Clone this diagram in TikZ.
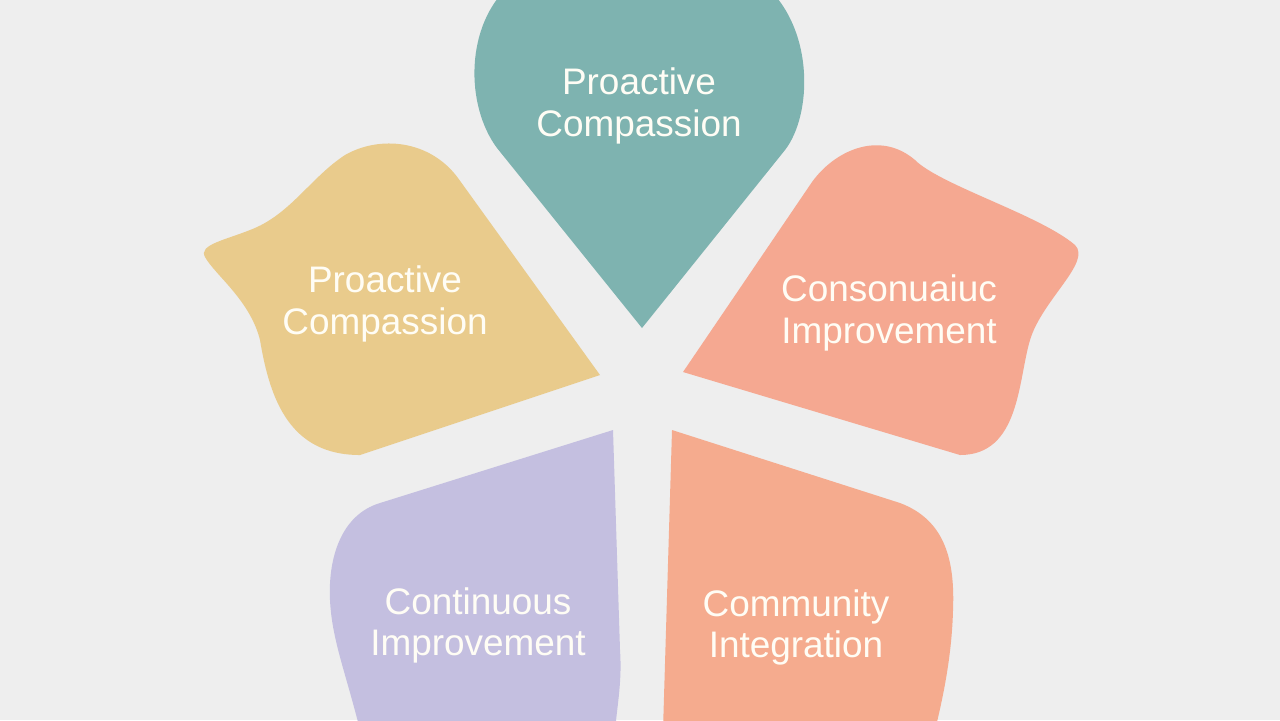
\documentclass[tikz,border=0pt]{standalone}
\usepackage{fontspec}
\setmainfont{Liberation Sans}
\definecolor{bgc}{RGB}{238,238,238}
\definecolor{tealc}{RGB}{126,179,176}
\definecolor{yellowc}{RGB}{233,203,140}
\definecolor{salmonc}{RGB}{245,168,145}
\definecolor{lavc}{RGB}{196,191,224}
\definecolor{coralc}{RGB}{245,171,142}
\definecolor{txtc}{RGB}{255,253,245}
\tikzset{
  lbl/.style={text=txtc, align=center, font=\fontsize{10.5}{11.7}\selectfont, inner sep=0pt}
}
\begin{document}
\begin{tikzpicture}[x=0.01cm, y=-0.01cm]
\useasboundingbox (0,0) rectangle (1280,720);
\fill[bgc] (0,0) rectangle (1280,720);
\begin{scope}
\clip (0,0) rectangle (1280,720);
% teal top petal
\fill[tealc] (642,328) -- (497,148) .. controls (465,105) and (465,25) .. (510,-15)
  -- (765,-15) .. controls (815,30) and (812,115) .. (785,150) -- cycle;
% salmon right petal
\fill[salmonc] (683,372) -- (812,182) .. controls (835,150) and (880,130) .. (915,160)
  .. controls (940,185) and (1040,215) .. (1075,245)
  .. controls (1092,262) and (1042,300) .. (1030,340)
  .. controls (1018,380) and (1020,455) .. (960,455) -- cycle;
% yellow left petal
\fill[yellowc] (600,375) -- (458,178) .. controls (430,140) and (380,135) .. (345,155)
  .. controls (310,178) and (290,215) .. (250,230)
  .. controls (225,240) and (198,245) .. (205,257)
  .. controls (215,275) and (250,300) .. (260,340)
  .. controls (270,400) and (290,455) .. (360,455) -- cycle;
% lavender bottom-left petal
\fill[lavc] (613,430) -- (380,503) .. controls (340,515) and (328,560) .. (330,600)
  .. controls (332,640) and (345,670) .. (360,730) -- (615,730)
  .. controls (618,700) and (622,680) .. (620,650) -- cycle;
% coral bottom-right petal
\fill[coralc] (672,430) -- (900,503) .. controls (945,520) and (955,560) .. (953,610)
  .. controls (952,650) and (945,690) .. (935,730) -- (663,730) -- cycle;
\end{scope}
\node[lbl] (top) at (639,106) {Proactive\\Compassion};
\node[lbl] (right) at (889,313) {Consonuaiuc\\Improvement};
\node[lbl] (left) at (385,304) {Proactive\\Compassion};
\node[lbl] (botleft) at (478,625) {Continuous\\Improvement};
\node[lbl] (botright) at (796,627) {Community\\Integration};
\end{tikzpicture}
\end{document}
